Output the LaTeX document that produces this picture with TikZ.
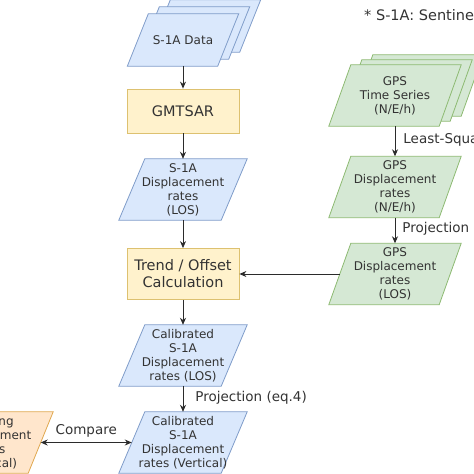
\documentclass[tikz,border=0pt]{standalone}
\usepackage{fontspec}
\setmainfont{DejaVu Sans}
\usetikzlibrary{calc,arrows.meta}
\pgfdeclarelayer{bg}
\pgfsetlayers{bg,main}
\definecolor{bfill}{HTML}{DAE8FC}
\definecolor{bline}{HTML}{7F9CC9}
\definecolor{gfill}{HTML}{D5E8D4}
\definecolor{gline}{HTML}{8DBA72}
\definecolor{yfill}{HTML}{FFF2CC}
\definecolor{yline}{HTML}{DDC170}
\definecolor{ofill}{HTML}{FFE6CC}
\definecolor{oline}{HTML}{E0A850}
\definecolor{txt}{HTML}{333333}
\definecolor{arrc}{HTML}{2B2B2B}
\newcommand\plgram[4]{%
  \path[#2] ($(#1.south west)+(-#3/2,0)+#4$) -- ($(#1.south east)+(-#3/2,0)+#4$)
    -- ($(#1.north east)+(#3/2,0)+#4$) -- ($(#1.north west)+(#3/2,0)+#4$) -- cycle;}
\tikzset{
  txtnode/.style={inner sep=0pt, align=center, text=txt, font=\fontsize{12}{14}\selectfont},
  bluenode/.style={txtnode, minimum width=102pt, minimum height=61pt},
  greennode/.style={txtnode, minimum width=110pt, minimum height=61pt},
  orangenode/.style={txtnode, minimum width=101pt, minimum height=61pt},
  procbox/.style={draw=yline, fill=yfill, line width=0.8pt, inner sep=0pt, align=center,
    text=txt, font=\fontsize{14.5}{17}\selectfont, minimum width=112pt},
  bluepg/.style={draw=bline, fill=bfill, line width=0.8pt},
  greenpg/.style={draw=gline, fill=gfill, line width=0.8pt},
  orangepg/.style={draw=oline, fill=ofill, line width=0.8pt},
  arr/.style={draw=arrc, line width=0.9pt, -{Stealth[length=7pt,width=6pt]}},
  darr/.style={draw=arrc, line width=0.9pt, {Stealth[length=7pt,width=6pt]}-{Stealth[length=7pt,width=6pt]}},
  lbl/.style={inner sep=0pt, text=txt, font=\fontsize{13.5}{16}\selectfont},
}
\begin{document}
\begin{tikzpicture}[x=1pt, y=-1pt]
\useasboundingbox (0,0) rectangle (474,474);
\clip (0,0) rectangle (474,474);

% left column
\node[txtnode, minimum width=90pt, minimum height=52pt] (s1data) at (183,40) {S-1A Data};
\node[procbox, minimum height=44pt] (gmtsar) at (183,111) {GMTSAR};
\node[bluenode] (s1los) at (183,189.5) {S-1A\\Displacement\\rates\\(LOS)};
\node[procbox, minimum height=51pt] (trend) at (183,274) {Trend / Offset\\Calculation};
\node[bluenode] (callos) at (183,355.5) {Calibrated\\S-1A\\Displacement\\rates (LOS)};
\node[bluenode] (calvert) at (183,442.5) {Calibrated\\S-1A\\Displacement\\rates (Vertical)};
\node[orangenode] (level) at (-10,442.5) {\hspace*{-3pt}Leveling\\Displacement\\rates\\(Vertical)};

% right column
\node[greennode] (gpsts) at (395,95.5) {GPS\\Time Series\\(N/E/h)};
\node[greennode] (gpsrate) at (395,187) {GPS\\Displacement\\rates\\(N/E/h)};
\node[greennode] (gpslos) at (395,274) {GPS\\Displacement\\rates\\(LOS)};

% note
\node[lbl, anchor=west, font=\fontsize{14.5}{17}\selectfont] (note) at (364,15) {* S-1A: Sentinel-1A};

\begin{pgfonlayer}{bg}
  \clip (0,0) rectangle (474,474);
  \plgram{s1data}{bluepg}{21}{(22,-14)}
  \plgram{s1data}{bluepg}{21}{(11,-7)}
  \plgram{s1data}{bluepg}{21}{(0,0)}
  \plgram{s1los}{bluepg}{26}{(0,0)}
  \plgram{callos}{bluepg}{26}{(0,0)}
  \plgram{calvert}{bluepg}{26}{(0,0)}
  \plgram{level}{orangepg}{25}{(0,0)}
  \plgram{gpsts}{greenpg}{22}{(22,-10)}
  \plgram{gpsts}{greenpg}{22}{(11,-5)}
  \plgram{gpsts}{greenpg}{22}{(0,0)}
  \plgram{gpsrate}{greenpg}{22}{(0,0)}
  \plgram{gpslos}{greenpg}{22}{(0,0)}
\end{pgfonlayer}

% connectors
\draw[arr] (s1data.south) -- (gmtsar.north);
\draw[arr] (gmtsar.south) -- (s1los.north);
\draw[arr] (s1los.south) -- (trend.north);
\draw[arr] (trend.south) -- (callos.north);
\draw[arr] (callos.south) -- node[lbl, anchor=west, xshift=12pt, yshift=1pt] {Projection (eq.4)} (calvert.north);
\draw[darr] (level.east) -- node[lbl, anchor=south, yshift=5pt] {Compare} (calvert.west);
\draw[arr] (gpsts.south) -- node[lbl, anchor=west, xshift=8pt, yshift=1.5pt] {Least-Squares} (gpsrate.north);
\draw[arr] (gpsrate.south) -- node[lbl, anchor=west, xshift=7pt, yshift=2pt] {Projection} (gpslos.north);
\draw[arr] (gpslos.west) -- (trend.east);
\end{tikzpicture}
\end{document}
